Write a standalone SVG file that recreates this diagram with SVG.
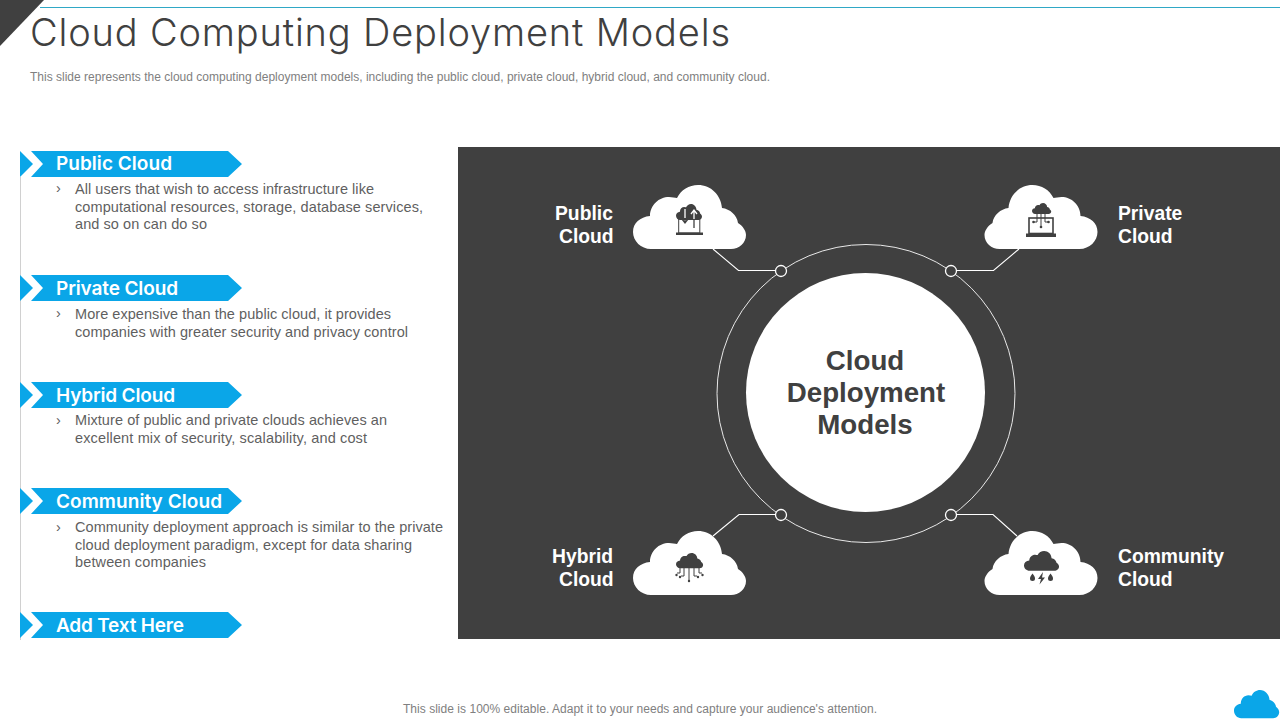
<svg xmlns="http://www.w3.org/2000/svg" width="1280" height="720" viewBox="0 0 1280 720">
<style>
.title{font:300 38px Inter,"Liberation Sans",sans-serif;fill:#404040}
.sub{font:12px "Liberation Sans",Arial,sans-serif;fill:#808080}
.head{font:600 19px Inter,"Liberation Sans",sans-serif;fill:#fff}
.body{font:14.5px "Liberation Sans",Arial,sans-serif;fill:#5f5f5f}
.lab{font:700 19.300px "Liberation Sans",Arial,sans-serif;fill:#fff}
.center{font:700 27.700px "Liberation Sans",Arial,sans-serif;fill:#404040;text-anchor:middle}
.conn{fill:none;stroke:#fff;stroke-width:1.100}
.ring{fill:none;stroke:#e8e8e8;stroke-width:1}
.dot{fill:#404040;stroke:#fff;stroke-width:1.300}
.ico{fill:#404040}
.icol{fill:none;stroke:#404040;stroke-width:1}
.tag{fill:#0aa6e8}
</style>
<defs>
<path id="cloud" d="M18 64C8 64 0 56 0 47C0 38 7 32 17 31C17 20 26 12 36 12C39 12 42 13 44 13C48 5 56 0 65 0C78 0 88 10 89 23C97 24 104 30 105 38C110 41 113 46 113 50C113 58 106 64 98 64Z"/>
<g id="banner"><path class="tag" d="M20 0L33 13L20 26Z"/><path class="tag" d="M31 0H228L242 13L228 26H31L43 13Z"/></g>
</defs>
<rect width="1280" height="720" fill="#fff"/>
<g id="header">
<rect x="40" y="7" width="1240" height="1" fill="#2fa8c6"/>
<path d="M0 0H44L0 46Z" fill="#404040"/>
<text class="title" x="30" y="46" textLength="700">Cloud Computing Deployment Models</text>
<text class="sub" x="30" y="81" textLength="740">This slide represents the cloud computing deployment models, including the public cloud, private cloud, hybrid cloud, and community cloud.</text>
</g>
<line x1="20.500" y1="177" x2="20.500" y2="640" stroke="#d0d0d0"/>
<g id="item-public">
<use href="#banner" y="151"/><text class="head" x="56" y="170" textLength="116">Public Cloud</text>
<text class="body" x="56" y="193">›</text>
<text class="body" x="75" y="194" textLength="299">All users that wish to access infrastructure like</text>
<text class="body" x="75" y="212" textLength="348">computational resources, storage, database services,</text>
<text class="body" x="75" y="229" textLength="132">and so on can do so</text>
</g>
<g id="item-private">
<use href="#banner" y="275"/><text class="head" x="56" y="295" textLength="122">Private Cloud</text>
<text class="body" x="56" y="318">›</text>
<text class="body" x="75" y="319" textLength="316">More expensive than the public cloud, it provides</text>
<text class="body" x="75" y="337" textLength="333">companies with greater security and privacy control</text>
</g>
<g id="item-hybrid">
<use href="#banner" y="382"/><text class="head" x="56" y="402" textLength="119">Hybrid Cloud</text>
<text class="body" x="56" y="425">›</text>
<text class="body" x="75" y="425" textLength="312">Mixture of public and private clouds achieves an</text>
<text class="body" x="75" y="443" textLength="292">excellent mix of security, scalability, and cost</text>
</g>
<g id="item-community">
<use href="#banner" y="488"/><text class="head" x="56" y="508" textLength="166">Community Cloud</text>
<text class="body" x="56" y="532">›</text>
<text class="body" x="75" y="532" textLength="368">Community deployment approach is similar to the private</text>
<text class="body" x="75" y="550" textLength="337">cloud deployment paradigm, except for data sharing</text>
<text class="body" x="75" y="567" textLength="131">between companies</text>
</g>
<g id="item-add">
<use href="#banner" y="612"/><text class="head" x="56" y="632" textLength="128">Add Text Here</text>
</g>
<rect id="panel" x="458" y="147" width="822" height="492" fill="#404040"/>
<g id="connectors">
<circle class="ring" cx="866" cy="393.500" r="149"/>
<path class="conn" d="M713 249L738.500 270.500H776"/>
<path class="conn" d="M1019 249L993.500 270.500H956"/>
<path class="conn" d="M713 536L739 514.500H776"/>
<path class="conn" d="M1017 536L993 514.500H956"/>
<circle class="dot" cx="781" cy="271" r="5.500"/>
<circle class="dot" cx="951" cy="271" r="5.500"/>
<circle class="dot" cx="781" cy="515" r="5.500"/>
<circle class="dot" cx="951" cy="515" r="5.500"/>
</g>
<g id="center">
<circle cx="865.500" cy="392.500" r="119.500" fill="#fff"/>
<text class="center" x="865" y="370">Cloud</text>
<text class="center" x="866" y="402">Deployment</text>
<text class="center" x="865" y="434">Models</text>
</g>
<g id="node-public">
<use href="#cloud" x="633" y="185" fill="#fff"/>
<use href="#cloud" transform="translate(676 204) scale(.23 .25)" class="ico"/>
<path class="icol" stroke-width="1.500" d="M678.700 217V233H699.800V217"/><path d="M676 232.500H703V235H676Z" class="ico"/>
<path d="M685 209V218M694 219V211M691 214L694 210L697 214" fill="none" stroke="#fff" stroke-width="1.300"/>
<path d="M685 218V222M682 219L685 223L688 219M694 219V228" fill="none" stroke="#404040" stroke-width="1.300"/>
<text class="lab" x="555" y="220">Public</text><text class="lab" x="559" y="243">Cloud</text>
</g>
<g id="node-private">
<use href="#cloud" transform="translate(1097.500 185) scale(-1 1)" fill="#fff"/>
<use href="#cloud" transform="translate(1032 203) scale(.17)" class="ico"/>
<rect x="1029" y="218" width="24" height="15.500" fill="none" stroke="#404040" stroke-width="1.600"/>
<path d="M1026 233.500H1056V237H1026Z" class="ico"/>
<path class="icol" stroke-width=".8" d="M1041 214V226M1037 214V222H1034M1045 214V222H1048"/>
<g class="ico"><circle cx="1041" cy="227" r="1.300"/><circle cx="1033.500" cy="222" r="1.300"/><circle cx="1048.500" cy="222" r="1.300"/></g>
<text class="lab" x="1118" y="220">Private</text><text class="lab" x="1118" y="243">Cloud</text>
</g>
<g id="node-hybrid">
<use href="#cloud" x="633" y="531" fill="#fff"/>
<use href="#cloud" transform="translate(676 553) scale(.24)" class="ico"/>
<path class="icol" d="M689 568V580M684 568V576H681M694 568V576H697M680 568V573H677M699 568V573H702" stroke-width=".6"/>
<g class="ico"><circle cx="689" cy="581" r="1.200"/><circle cx="680" cy="577" r="1.200"/><circle cx="698" cy="577" r="1.200"/><circle cx="676.500" cy="575" r="1.200"/><circle cx="702.500" cy="575" r="1.200"/></g>
<text class="lab" x="552" y="563">Hybrid</text><text class="lab" x="559" y="586">Cloud</text>
</g>
<g id="node-community">
<use href="#cloud" transform="translate(1097.500 531) scale(-1 1)" fill="#fff"/>
<use href="#cloud" transform="translate(1024 551) scale(.31)" class="ico"/>
<g class="ico"><path d="M1032.500 573.500C1034.500 576 1035 577 1035 578.500A2.500 2.500 0 0 1 1030 578.500C1030 577 1030.500 576 1032.500 573.500Z"/><path d="M1050.500 573.500C1052.500 576 1053 577 1053 578.500A2.500 2.500 0 0 1 1048 578.500C1048 577 1048.500 576 1050.500 573.500Z"/><path d="M1043 572L1038 579H1041L1039.500 584.500L1045 577.500H1042Z"/></g>
<text class="lab" x="1118" y="563">Community</text><text class="lab" x="1118" y="586">Cloud</text>
</g>
<text class="sub" x="403" y="713" textLength="474">This slide is 100% editable. Adapt it to your needs and capture your audience's attention.</text>
<use id="logo" href="#cloud" transform="translate(1234 690) scale(.4 .44)" fill="#0aa6e8"/>
</svg>
